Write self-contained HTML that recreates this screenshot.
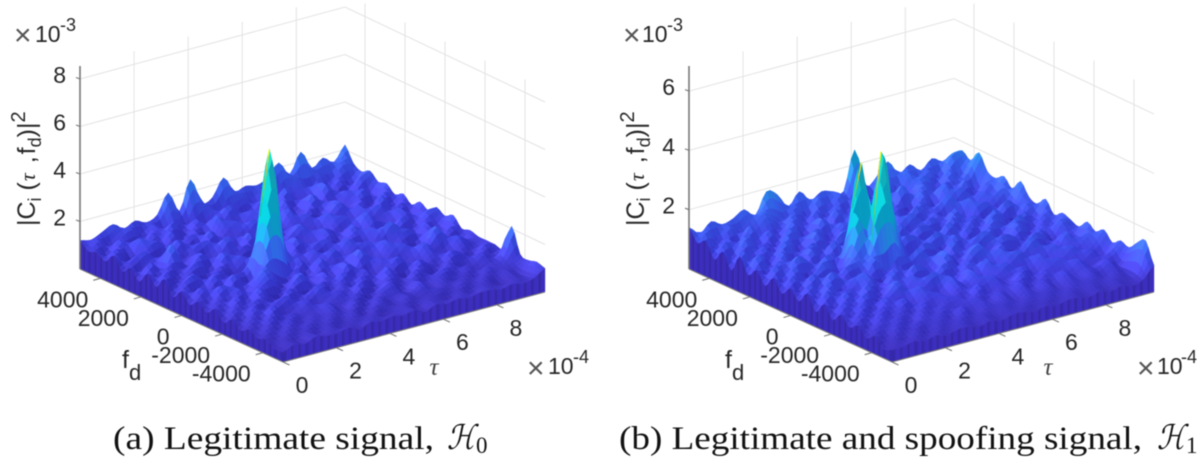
<!DOCTYPE html>
<html lang="en">
<head>
<meta charset="utf-8">
<title>Cross-ambiguity function surfaces</title>
<style>
html,body{margin:0;padding:0;background:#fff;}
svg{display:block;filter:blur(0.5px);}
text{font-family:"Liberation Sans",sans-serif;fill:#262626;}
.cap{font-family:"Liberation Serif",serif;fill:#111;font-size:33px;}
.sym{font-family:"DejaVu Serif","Liberation Serif",serif;font-style:italic;fill:#111;font-size:34px;}
.subs{font-family:"Liberation Serif",serif;fill:#111;font-size:23px;}
.tick{font-size:23px;}
.mul{font-size:30px;fill:#555;}
.tau{font-family:"Liberation Serif",serif;font-style:italic;font-size:25px;fill:#444;}
</style>
</head>
<body>
<svg id="chart" xmlns="http://www.w3.org/2000/svg" width="1200" height="461" viewBox="0 0 1200 461">
<rect x="0" y="0" width="1200" height="461" fill="#fff"/>
<g id="panel-a"></g>
<g id="panel-b"></g>

<g>
  <text class="mul" x="14" y="45">×</text>
  <text x="35" y="42" font-size="23">10</text>
  <text x="60" y="31" font-size="18">-3</text>
  <text transform="translate(35,226) rotate(-90)" font-size="25">|C<tspan font-size="18" dy="6">i</tspan><tspan dy="-6" dx="7">(</tspan><tspan font-family="Liberation Serif" font-style="italic" font-size="22" dx="1">τ</tspan><tspan dx="3"> ,</tspan><tspan dx="2">f</tspan><tspan font-size="18" dy="6">d</tspan><tspan dy="-6">)|</tspan><tspan font-size="20" dy="-10">2</tspan></text>
  <text x="122" y="368" font-size="25">f<tspan font-size="22" dy="12">d</tspan></text>
  <text class="tau" x="434" y="375" text-anchor="middle">τ</text>
  <text class="mul" x="527" y="378">×</text>
  <text x="548" y="374" font-size="23">10</text>
  <text x="573" y="363" font-size="18">-4</text>
  <text class="cap" x="113" y="449" textLength="321" lengthAdjust="spacingAndGlyphs">(a) Legitimate signal,</text>
  <text class="sym" x="447" y="449" textLength="28" lengthAdjust="spacingAndGlyphs">ℋ</text>
  <text class="subs" x="476" y="453">0</text>
</g>

<g transform="translate(609,0)">
  <text class="mul" x="14" y="45">×</text>
  <text x="33" y="42" font-size="23">10</text>
  <text x="58" y="31" font-size="18">-3</text>
  <text transform="translate(35,226) rotate(-90)" font-size="25">|C<tspan font-size="18" dy="6">i</tspan><tspan dy="-6" dx="7">(</tspan><tspan font-family="Liberation Serif" font-style="italic" font-size="22" dx="1">τ</tspan><tspan dx="3"> ,</tspan><tspan dx="2">f</tspan><tspan font-size="18" dy="6">d</tspan><tspan dy="-6">)|</tspan><tspan font-size="20" dy="-10">2</tspan></text>
  <text x="116" y="368" font-size="25">f<tspan font-size="22" dy="12">d</tspan></text>
  <text class="tau" x="439" y="375" text-anchor="middle">τ</text>
  <text class="mul" x="528" y="378">×</text>
  <text x="548" y="374" font-size="23">10</text>
  <text x="572" y="363" font-size="18">-4</text>
</g>
<text class="cap" x="619" y="449" textLength="523" lengthAdjust="spacingAndGlyphs">(b) Legitimate and spoofing signal,</text>
<text class="sym" x="1157" y="449" textLength="28" lengthAdjust="spacingAndGlyphs">ℋ</text>
<text class="subs" x="1186" y="453">1</text>
</svg>

<script>
// Chart data. Heights are in units of 1e-4; rows run from the back edge (fd max) to the front edge (fd min),
// columns run from tau = 0 to tau max.
var tauTicks = [0, 2, 4, 6, 8];
var fdTicks = [4000, 2000, 0, -2000, -4000];
var zTicksA = [2, 4, 6, 8];
var zTicksB = [2, 4, 6];

var heightsA = [
[12,11,13,15,12,14,12,14,22,13,25,14,15,22,15,16,15,17,22,16,24,16,19,16,22],
[9,12,8,11,13,8,12,9,13,8,12,14,9,12,14,10,13,9,13,15,10,14,11,16,16],
[10,7,13,9,6,12,10,14,8,13,7,10,15,9,8,13,7,16,9,11,14,8,13,9,14],
[8,12,9,14,10,7,13,6,11,9,15,8,9,13,11,6,14,9,12,7,15,10,7,14,16],
[12,8,6,11,13,9,8,12,10,6,12,13,7,10,14,9,11,7,15,10,8,13,11,8,13],
[7,11,13,8,6,14,10,7,14,9,8,11,14,6,9,15,7,12,9,13,6,10,14,9,14],
[10,6,9,12,10,8,12,13,8,12,10,6,10,13,8,11,13,6,10,14,9,12,7,13,11],
[6,13,8,18,7,11,6,10,15,7,14,9,12,8,12,7,10,14,8,9,13,7,15,8,13],
[11,8,12,9,10,13,9,7,9,12,8,13,7,11,14,9,6,12,13,7,11,14,8,12,10],
[7,12,7,11,13,6,14,11,8,6,13,10,12,6,10,13,11,8,10,15,6,10,13,7,13],
[12,6,10,8,7,11,9,13,10,14,9,7,14,10,7,12,8,14,7,12,11,8,12,10,11],
[6,11,13,9,12,8,7,10,24,14,7,12,8,12,13,6,10,11,13,6,9,14,7,13,14],
[10,8,7,13,9,11,13,28,60,26,11,9,13,6,10,14,8,7,12,16,10,7,12,9,12],
[6,12,9,7,14,8,9,30,34,8,13,7,10,14,8,11,13,10,6,11,13,9,11,7,14],
[9,7,13,11,7,12,16,12,9,12,7,14,8,9,12,6,9,14,9,8,7,13,8,12,10],
[6,10,8,12,9,11,13,6,12,8,10,9,12,7,15,10,7,11,13,7,10,16,9,7,11],
[9,7,12,7,13,8,6,11,14,7,12,6,13,10,8,12,9,6,10,14,8,9,13,10,10],
[5,10,8,11,9,7,12,8,7,11,9,13,7,11,6,9,13,8,7,11,9,7,10,8,10],
[8,6,11,7,10,12,7,10,13,6,10,8,12,7,13,8,6,12,9,7,12,10,6,11,10],
[5,9,7,12,6,8,11,6,9,11,7,12,6,9,10,7,11,8,6,10,7,8,11,7,10],
[7,6,10,7,9,7,8,10,7,8,10,6,9,11,6,9,7,9,11,7,9,6,8,10,21],
[5,8,6,9,6,8,7,9,6,9,6,9,7,8,7,10,6,8,7,8,6,9,7,8,11],
[6,5,8,6,8,6,8,6,8,5,8,7,6,8,6,7,8,6,8,6,8,6,8,6,10],
[4,6,5,7,5,7,5,6,6,7,5,6,7,5,7,6,5,7,5,7,6,5,7,6,11],
[4,6,5,7,6,6,7,5,7,6,7,6,7,5,7,6,7,6,7,7,6,7,6,7,10]
];

var heightsB = [
[14,11,14,12,13,15,12,19,17,12,16,12,14,13,12,25,12,14,18,13,15,12,15,13,15],
[10,13,8,12,9,11,14,12,10,13,8,14,9,13,10,12,8,14,11,15,10,13,9,16,17],
[12,7,11,6,13,8,10,9,13,7,12,8,12,7,14,9,13,10,7,12,14,8,14,10,15],
[7,12,9,13,7,12,6,13,8,11,6,13,9,11,8,12,7,15,10,13,8,12,10,13,19],
[11,6,13,8,10,7,13,9,6,13,9,7,12,6,13,9,11,6,13,9,14,7,13,8,14],
[6,12,7,11,6,13,8,11,12,7,12,10,7,13,8,11,7,12,9,7,11,13,6,12,13],
[12,8,11,7,13,9,6,13,7,10,8,13,10,6,12,7,13,9,11,14,7,9,12,9,15],
[7,13,6,12,8,10,12,7,11,13,6,9,12,8,11,13,6,11,7,10,13,7,10,13,12],
[10,7,11,9,6,12,7,13,8,6,12,8,6,13,7,9,12,8,13,6,11,12,7,9,16],
[6,12,8,13,10,7,11,8,20,20,7,13,9,7,12,11,6,12,9,11,7,8,13,10,12],
[10,7,12,6,9,13,6,24,41,12,16,8,12,11,6,8,13,7,11,8,13,10,6,12,11],
[6,11,7,10,13,7,12,24,10,45,26,12,6,9,13,10,7,12,6,13,9,7,12,8,14],
[9,6,12,8,6,11,12,14,26,28,8,7,12,11,7,12,9,6,12,8,11,13,7,11,10],
[6,11,7,13,9,7,8,13,8,12,11,13,7,6,13,7,11,13,8,7,12,6,10,8,12],
[10,7,12,6,10,12,9,6,11,8,7,9,12,10,8,11,6,9,12,10,7,11,8,12,11],
[5,11,8,10,7,11,7,12,7,12,10,7,13,6,11,13,8,11,6,8,12,9,6,9,10],
[9,6,11,7,12,6,10,8,11,6,8,12,7,11,7,9,12,7,10,13,6,8,12,7,13],
[5,10,7,11,6,9,12,6,9,12,10,6,10,8,12,6,10,12,7,9,11,7,9,11,11],
[8,6,10,6,10,7,8,11,7,7,11,8,11,6,9,11,7,8,11,6,9,11,7,9,13],
[5,9,6,9,7,10,6,9,9,6,9,7,9,10,7,8,10,6,9,10,7,8,10,6,10],
[7,5,9,6,8,6,9,6,8,8,6,10,6,8,7,10,6,9,7,8,10,6,7,9,12],
[4,7,6,8,5,8,6,8,6,7,8,6,8,6,9,6,8,6,9,6,8,7,9,6,11],
[6,4,7,5,7,6,7,5,8,5,7,6,7,5,7,6,7,5,7,6,7,5,7,6,14],
[3,5,4,6,4,6,5,6,5,6,5,6,5,6,5,6,5,6,5,6,5,6,5,6,16],
[4,4,5,4,5,4,5,5,4,5,4,5,5,4,5,4,5,5,4,5,4,5,4,5,9]
];

var TAU_MAX = 9.8, FD_MAX = 5000, Z_TOP_PX = 203, UPSAMPLE = 3;
var PARULA = [[62,38,168],[71,71,235],[62,111,255],[39,150,235],[8,181,208],[26,191,184],[51,200,148],[129,204,89],[190,190,60],[253,190,61],[249,251,21]];
var COLOR_R = [0, 0.17, 0.33, 0.5, 1];
var COLOR_T = [0, 0.09, 0.2, 0.38, 0.5];
var NS = 'http://www.w3.org/2000/svg';

function make(tag, parent, attrs) {
  var n = document.createElementNS(NS, tag);
  for (var k in attrs) n.setAttribute(k, attrs[k]);
  parent.appendChild(n);
  return n;
}
function parula(t) {
  t = Math.max(0, Math.min(1, t)) * (PARULA.length - 1);
  var a = Math.floor(t), b = Math.min(PARULA.length - 1, a + 1), f = t - a;
  return [0, 1, 2].map(function (c) { return PARULA[a][c] + (PARULA[b][c] - PARULA[a][c]) * f; });
}
function rgb(c, s) {
  // blue keeps most of its strength under shading so dark facets stay saturated
  var sb = 1 + (s - 1) * 0.55;
  return 'rgb(' + Math.round(Math.min(255, c[0] * s)) + ',' + Math.round(Math.min(255, c[1] * s)) + ',' + Math.round(Math.min(255, c[2] * sb)) + ')';
}
function colorPos(r) {
  for (var i = 1; i < COLOR_R.length; i++) {
    if (r <= COLOR_R[i]) {
      return COLOR_T[i - 1] + (COLOR_T[i] - COLOR_T[i - 1]) * (r - COLOR_R[i - 1]) / (COLOR_R[i] - COLOR_R[i - 1]);
    }
  }
  return COLOR_T[COLOR_T.length - 1];
}
function catmull(p0, p1, p2, p3, t) {
  return 0.5 * (2 * p1 + (p2 - p0) * t + (2 * p0 - 5 * p1 + 4 * p2 - p3) * t * t + (3 * p1 - p0 - 3 * p2 + p3) * t * t * t);
}

function drawPanel(root, heights, zTicks, geom, suffix) {
  var rows = heights.length, cols = heights[0].length;
  var zPx = geom.zPx;
  function tauU(t) { return t / TAU_MAX; }
  function fdV(f) { return (f + FD_MAX) / (2 * FD_MAX); }
  function project(u, v, z) {
    var x = (1 - u) * (1 - v) * geom.F[0] + u * (1 - v) * geom.R[0] + (1 - u) * v * geom.L[0] + u * v * geom.B[0];
    var y = (1 - u) * (1 - v) * geom.F[1] + u * (1 - v) * geom.R[1] + (1 - u) * v * geom.L[1] + u * v * geom.B[1];
    return [x, y - z * zPx];
  }
  function zAt(i, j) {
    i = Math.max(0, Math.min(cols - 1, i));
    j = Math.max(0, Math.min(rows - 1, j));
    return heights[rows - 1 - j][i] / 10;
  }
  function vtx(i, j) { return project(i / (cols - 1), j / (rows - 1), zAt(i, j)); }
  var zMax = 0;
  heights.forEach(function (r) { r.forEach(function (h) { zMax = Math.max(zMax, h / 10); }); });
  function color(z, s) { return rgb(parula(colorPos(z / zMax)), s); }

  // smooth the data grid for drawing
  var nI = (cols - 1) * UPSAMPLE + 1, nJ = (rows - 1) * UPSAMPLE + 1, fine = [];
  for (var fi = 0; fi < nI; fi++) {
    fine.push([]);
    var i0 = Math.min(cols - 2, Math.floor(fi / UPSAMPLE)), ti = fi / UPSAMPLE - i0;
    for (var fj = 0; fj < nJ; fj++) {
      var j0 = Math.min(rows - 2, Math.floor(fj / UPSAMPLE)), tj = fj / UPSAMPLE - j0;
      var col = [];
      for (var dj = -1; dj <= 2; dj++) {
        col.push(catmull(zAt(i0 - 1, j0 + dj), zAt(i0, j0 + dj), zAt(i0 + 1, j0 + dj), zAt(i0 + 2, j0 + dj), ti));
      }
      fine[fi].push(Math.max(0.25, catmull(col[0], col[1], col[2], col[3], tj)));
    }
  }
  function fineP(i, j) { return project(i / (nI - 1), j / (nJ - 1), fine[i][j]); }
  function floorP(i, j) { return project(i / (nI - 1), j / (nJ - 1), 0); }
  function pts(list) { return list.map(function (q) { return q[0].toFixed(1) + ',' + q[1].toFixed(1); }).join(' '); }

  // walls: grid lines
  var grid = make('g', root, { stroke: '#e3e3e3', 'stroke-width': 1, fill: 'none' });
  
  
  zTicks.forEach(function (z) {
    var a = project(0, 1, z), b = project(1, 1, z), c = project(1, 0, z);
    var line = make('polyline', grid, { points: a.join(',') + ' ' + b.join(',') + ' ' + c.join(',') });
    
    
  });
  tauTicks.slice(1).forEach(function (t) {
    var p = project(tauU(t), 1, 0);
    var line = make('line', grid, { x1: p[0], y1: p[1], x2: p[0], y2: p[1] - Z_TOP_PX });
    
    
  });
  fdTicks.forEach(function (f) {
    var p = project(1, fdV(f), 0);
    var line = make('line', grid, { x1: p[0], y1: p[1], x2: p[0], y2: p[1] - Z_TOP_PX });
    
    
  });

  // surface, painted back to front
  var surf = make('g', root, {});
  
  
  for (var j = nJ - 2; j >= 0; j--) {
    for (var i = nI - 2; i >= 0; i--) {
      var a = fine[i][j], b = fine[i + 1][j], c = fine[i + 1][j + 1], d = fine[i][j + 1];
      var mean = (a + b + c + d) / 4;
      var slope = (((b + c) - (a + d)) - ((c + d) - (a + b))) * UPSAMPLE / 2;
      var low = -0.34 * Math.max(0.25, 1 - mean / zMax * 2);
      var shade = 0.94 + Math.max(low, Math.min(0.26, slope * 0.45));
      var fillCol = color(mean, shade);
      var quad = make('polygon', surf, {
        points: pts([fineP(i, j), fineP(i + 1, j), fineP(i + 1, j + 1), fineP(i, j + 1)]),
        fill: fillCol, stroke: fillCol, 'stroke-width': 0.4
      });
      
      
    }
  }

  // ridge highlight on tall peaks, drawn from the grid's local maxima
  for (var pj = 1; pj < rows - 1; pj++) {
    for (var pi = 1; pi < cols - 1; pi++) {
      if (zAt(pi, pj) > 3.5) {
        var top = vtx(pi, pj), foot = vtx(pi - 1, pj), n = 10;
        for (var s = 0; s < n; s++) {
          var f0 = s / n * 0.85, f1 = (s + 1) / n * 0.85;
          var seg = make('line', root, {
            x1: top[0] + (foot[0] - top[0]) * f0, y1: top[1] + (foot[1] - top[1]) * f0,
            x2: top[0] + (foot[0] - top[0]) * f1, y2: top[1] + (foot[1] - top[1]) * f1,
            stroke: rgb(parula(1 - (s / n) * 0.55), 1), 'stroke-width': 1.2
          });
          
          
        }
      }
    }
  }

  // skirts along the two front edges
  var skirt = make('g', root, { 'stroke-width': 0.3 });
  
  
  function skirtQuad(i0, j0, i1, j1, odd) {
    var shadeCol = odd ? '#3c2dc0' : '#3529ab';
    var q = make('polygon', skirt, {
      points: pts([fineP(i0, j0), fineP(i1, j1), floorP(i1, j1), floorP(i0, j0)]),
      fill: shadeCol, stroke: shadeCol
    });
    
    
  }
  for (var e = nJ - 2; e >= 0; e--) skirtQuad(0, e + 1, 0, e, e % 2);
  for (var g = nI - 2; g >= 0; g--) skirtQuad(g + 1, 0, g, 0, g % 2);

  // axes
  var axes = make('g', root, { stroke: '#777', 'stroke-width': 1.1, fill: 'none' });
  
  
  var pL = project(0, 1, 0), pF = project(0, 0, 0), pR = project(1, 0, 0);
  var fdAxis = make('line', axes, { x1: pL[0], y1: pL[1], x2: pF[0], y2: pF[1] });
  
  
  var tauAxis = make('line', axes, { x1: pF[0], y1: pF[1], x2: pR[0], y2: pR[1] });
  
  
  var zAxis = make('line', axes, { x1: pL[0], y1: pL[1], x2: pL[0], y2: pL[1] - Z_TOP_PX, 'stroke-width': 1.6 });
  
  

  tauTicks.forEach(function (v) {
    var p = project(tauU(v), 0, 0);
    var tk = make('line', axes, { x1: p[0], y1: p[1], x2: p[0] + 6.5, y2: p[1] + 3 });
    
    
    var lb = make('text', root, { x: p[0] + 19, y: p[1] + 31, 'text-anchor': 'middle', 'class': 'tick' });
    lb.textContent = String(v);
    
    
  });
  fdTicks.forEach(function (v) {
    var p = project(0, fdV(v), 0);
    var tk = make('line', axes, { x1: p[0], y1: p[1], x2: p[0] - 7, y2: p[1] + 2 });
    
    
    var lb = make('text', root, { x: p[0] - 12, y: p[1] + 29, 'text-anchor': 'end', 'class': 'tick' });
    lb.textContent = String(v);
    
    
  });
  zTicks.forEach(function (v) {
    var p = project(0, 1, v);
    var tk = make('line', axes, { x1: p[0], y1: p[1], x2: p[0] - 4, y2: p[1] - 1.5 });
    
    
    var lb = make('text', root, { x: p[0] - 14, y: p[1] + 4, 'text-anchor': 'end', 'class': 'tick' });
    lb.textContent = String(v);
    
    
  });
}

drawPanel(document.getElementById('panel-a'), heightsA, zTicksA,
  { L: [80, 269], F: [283, 362], R: [545, 292], B: [345, 197], zPx: 23.75 }, 'a');
drawPanel(document.getElementById('panel-b'), heightsB, zTicksB,
  { L: [689, 269], F: [892, 362], R: [1154, 292], B: [954, 197], zPx: 29.65 }, 'b');
</script>
</body>
</html>
